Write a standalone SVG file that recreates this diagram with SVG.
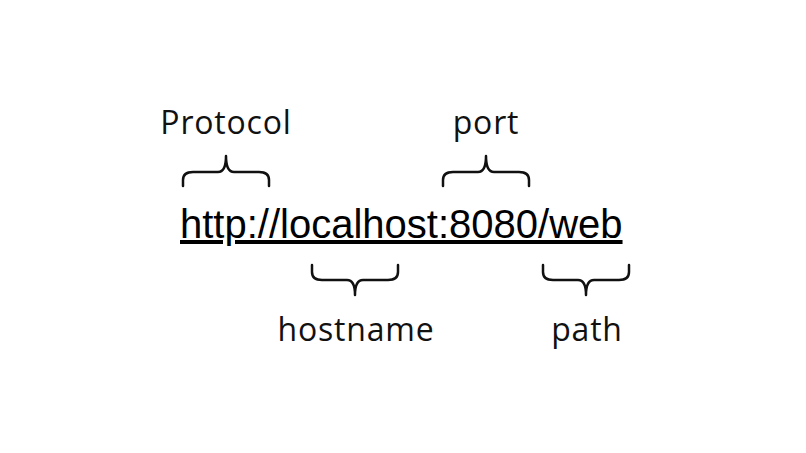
<svg xmlns="http://www.w3.org/2000/svg" width="806" height="453" viewBox="0 0 806 453">
<style>
.lbl{font-family:"Open Sans","Noto Sans",sans-serif;font-size:32px;letter-spacing:0.8px;fill:#111;text-anchor:middle}
.url{font-family:"Liberation Sans",Arial,sans-serif;font-size:40px;fill:#000;text-decoration:underline}
.brace{fill:none;stroke:#111;stroke-width:2.5;stroke-linecap:round;stroke-linejoin:round}
</style>
<rect width="806" height="453" fill="#fff"/>
<g id="url"><text class="url" x="180" y="238">http://localhost:8080/web</text></g>
<g id="protocol"><text class="lbl" x="226" y="134">Protocol</text></g>
<g id="port"><text class="lbl" x="486" y="134">port</text></g>
<g id="hostname"><text class="lbl" x="356" y="341">hostname</text></g>
<g id="path"><text class="lbl" x="587" y="341">path</text></g>
<g id="connectors">
<path class="brace" d="M183,186 V180 Q183,172 193,172 H218 Q226,172 226,156 Q226,172 234,172 H259 Q269,172 269,180 V186"/>
<path class="brace" d="M443,186 V180 Q443,172 453,172 H478 Q486,172 486,156 Q486,172 494,172 H519 Q529,172 529,180 V186"/>
<path class="brace" d="M312,265 V272 Q312,280 322,280 H347 Q355,280 355,295 Q355,280 363,280 H388 Q398,280 398,272 V265"/>
<path class="brace" d="M543,265 V272 Q543,280 553,280 H578 Q586,280 586,295 Q586,280 594,280 H619 Q629,280 629,272 V265"/>
</g>
</svg>
